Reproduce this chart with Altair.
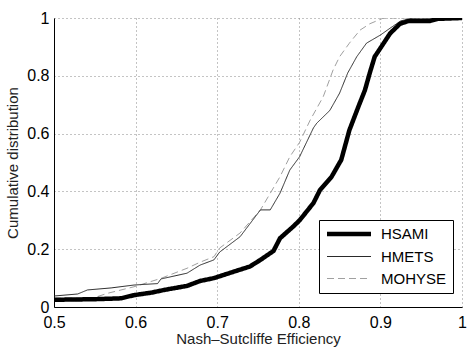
import altair as alt
import pandas as pd

hsami_x = [0.50, 0.55, 0.582, 0.598, 0.62, 0.635, 0.663, 0.679, 0.696, 0.72, 0.74, 0.753, 0.769, 0.777,
           0.793, 0.801, 0.818, 0.826, 0.84, 0.852, 0.862, 0.873, 0.881, 0.887, 0.893, 0.901, 0.912,
           0.924, 0.935, 0.961, 0.97, 1.0]
hsami_y = [0.025, 0.027, 0.03, 0.041, 0.05, 0.059, 0.073, 0.09, 0.10, 0.122, 0.14, 0.163, 0.194, 0.238,
           0.278, 0.30, 0.36, 0.405, 0.45, 0.509, 0.612, 0.693, 0.75, 0.81, 0.866, 0.90, 0.947,
           0.98, 0.99, 0.99, 0.997, 1.0]

hmets_x = [0.50, 0.529, 0.541, 0.57, 0.598, 0.627, 0.631, 0.663, 0.679, 0.696, 0.703, 0.728, 0.753,
           0.765, 0.777, 0.789, 0.801, 0.818, 0.822, 0.838, 0.850, 0.860, 0.871, 0.883, 0.900, 0.912,
           0.925, 0.94, 1.0]
hmets_y = [0.038, 0.045, 0.059, 0.066, 0.076, 0.081, 0.097, 0.117, 0.145, 0.163, 0.19, 0.243, 0.336,
           0.336, 0.394, 0.474, 0.52, 0.62, 0.636, 0.68, 0.74, 0.81, 0.866, 0.913, 0.941, 0.965,
           0.99, 1.0, 1.0]

mohyse_x = [0.50, 0.549, 0.565, 0.598, 0.631, 0.663, 0.679, 0.696, 0.703, 0.728, 0.753, 0.777, 0.789,
            0.801, 0.814, 0.830, 0.842, 0.850, 0.862, 0.875, 0.887, 0.903, 0.92, 1.0]
mohyse_y = [0.03, 0.032, 0.047, 0.07, 0.099, 0.134, 0.155, 0.174, 0.204, 0.256, 0.336, 0.451, 0.52,
            0.57, 0.647, 0.728, 0.82, 0.866, 0.913, 0.958, 0.98, 0.999, 1.0, 1.0]

models = ["HSAMI", "HMETS", "MOHYSE"]
colors = ["#000000", "#2a2a2a", "#a0a0a0"]
widths = [4.5, 1.0, 1.0]
dashes = [[1, 0], [1, 0], [7, 4]]

x_ticks = [0.5, 0.6, 0.7, 0.8, 0.9, 1.0]
y_ticks = [0, 0.2, 0.4, 0.6, 0.8, 1.0]

rows = []
for name, xs, ys in [("HSAMI", hsami_x, hsami_y), ("HMETS", hmets_x, hmets_y), ("MOHYSE", mohyse_x, mohyse_y)]:
    for i, (a, b) in enumerate(zip(xs, ys)):
        rows.append({"model": name, "nse": a, "cdf": b, "order": i})
df = pd.DataFrame(rows)
df["z"] = df["model"].map({"MOHYSE": 0, "HMETS": 1, "HSAMI": 2})
df = df.sort_values(["z", "order"])

FONT = "Liberation Sans"

chart = alt.Chart(df).mark_line(clip=True).encode(
    x=alt.X("nse:Q", scale=alt.Scale(domain=[0.5, 1.0], nice=False, zero=False),
            axis=alt.Axis(title="Nash\u2013Sutcliffe Efficiency", values=x_ticks, format="~g")),
    y=alt.Y("cdf:Q", scale=alt.Scale(domain=[0, 1], nice=False),
            axis=alt.Axis(title="Cumulative distribution", values=y_ticks, format="~g")),
    color=alt.Color("model:N", scale=alt.Scale(domain=models, range=colors), title=None),
    strokeWidth=alt.StrokeWidth("model:N", scale=alt.Scale(type="ordinal", domain=models, range=widths), title=None),
    strokeDash=alt.StrokeDash("model:N", scale=alt.Scale(domain=models, range=dashes), title=None),
    detail="model:N",
    order="order:Q",
).properties(
    width=408, height=289,
    autosize=alt.AutoSizeParams(type="none"),
    padding={"left": 54, "top": 18, "right": 12, "bottom": 42},
).configure_view(
    stroke=None
).configure_axis(
    labelFont=FONT, titleFont=FONT, labelFontSize=16, titleFontSize=15,
    labelColor="#000", titleColor="#222", titleFontWeight="normal",
    domainColor="#000", domainWidth=1, ticks=False, labelFlush=False, labelOverlap=False,
    grid=True, gridColor="#888", gridDash=[1, 3], gridWidth=1, gridOpacity=1,
).configure_axisX(
    titlePadding=1, labelPadding=7,
).configure_axisY(
    labelPadding=5, titlePadding=6,
).configure_legend(
    orient="none", legendX=265, legendY=202,
    strokeColor="#000", fillColor="#fff", padding=6,
    symbolType="M-4,0H4", symbolSize=121, symbolOffset=16, labelOffset=24,
    labelFont=FONT, labelFontSize=15, labelColor="#000", rowPadding=6,
    symbolFillColor="transparent",
)

chart.save("out.html", embed_options={"renderer": "svg", "actions": False})
